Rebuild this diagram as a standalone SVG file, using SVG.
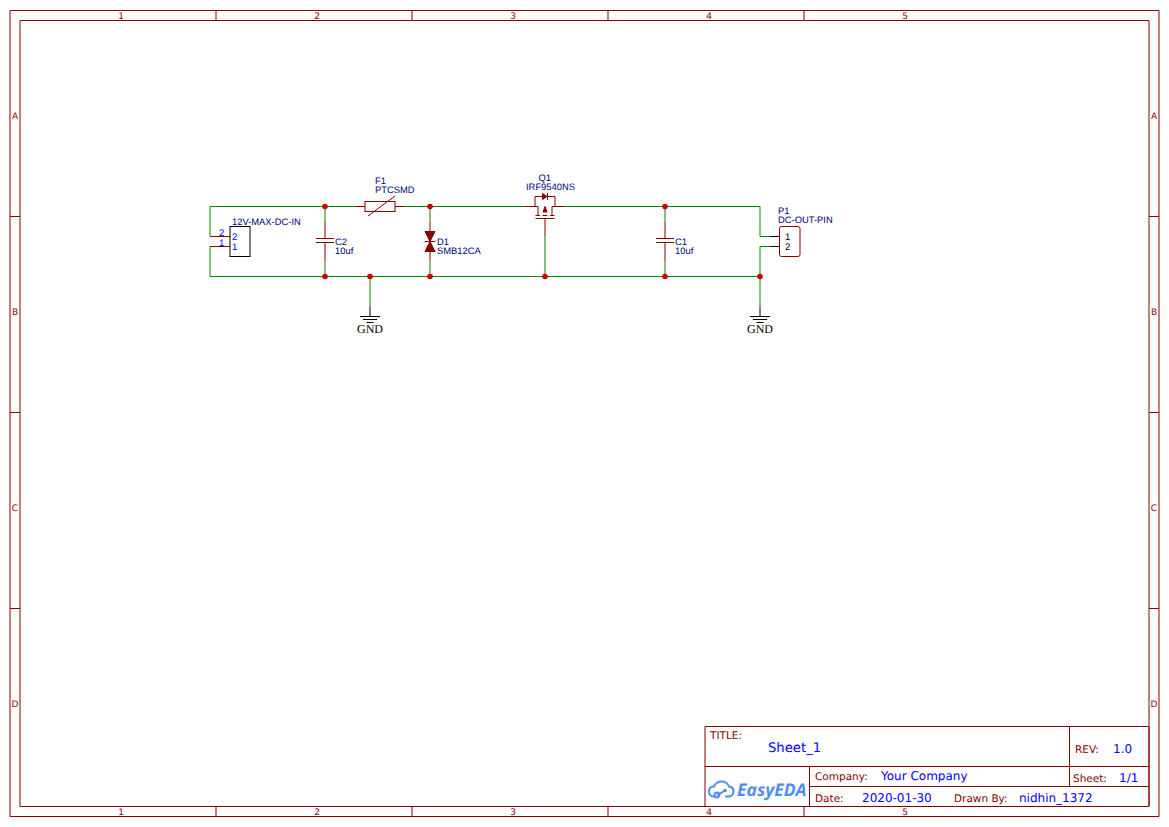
<svg xmlns="http://www.w3.org/2000/svg" width="1169" height="827" viewBox="0 0 1169 827">
<style>
text{white-space:pre;text-rendering:geometricPrecision}
.f{fill:none;stroke:#880000;stroke-width:1}
.w{fill:none;stroke:#008800;stroke-width:1}
.p{fill:none;stroke:#880000;stroke-width:1}
.k{fill:none;stroke:#000;stroke-width:1}
.j{fill:#cc0000}
.b{fill:#880000;stroke:#880000;stroke-width:1}
.t{font-family:"DejaVu Sans",sans-serif;fill:#880000}
.g{font-size:9px;text-anchor:middle}
.v{font-family:"DejaVu Sans",sans-serif;fill:#0000ff}
.l{font-family:"Liberation Sans",Arial,sans-serif;font-size:9.4px;fill:#000080}
.n{font-family:"Liberation Sans",Arial,sans-serif;font-size:9.5px;fill:#0000ff}
.d{font-family:"Liberation Sans",Arial,sans-serif;font-size:9.5px;fill:#000}
.gnd{font-family:"Liberation Serif",serif;font-size:12px;fill:#000;text-anchor:middle}
</style>
<rect width="1169" height="827" fill="#fff"/>
<g id="frame">
<path class="f" d="M10 10.5H1159V816.5H10ZM20 20.5H1149V806.5H20Z"/>
<path class="f" d="M216 10.5V20.5M412 10.5V20.5M608 10.5V20.5M804 10.5V20.5M216 806.5V816.5M412 806.5V816.5M608 806.5V816.5M804 806.5V816.5M10 216.5H20M10 412.5H20M10 608.5H20M1149 216.5H1159M1149 412.5H1159M1149 608.5H1159"/>
<g class="t g">
<text x="121" y="18.500">1</text><text x="317" y="18.500">2</text><text x="513" y="18.500">3</text><text x="709" y="18.500">4</text><text x="905" y="18.500">5</text>
<text x="121" y="815">1</text><text x="317" y="815">2</text><text x="513" y="815">3</text><text x="709" y="815">4</text><text x="905" y="815">5</text>
<text x="15" y="119">A</text><text x="15" y="315">B</text><text x="15" y="511">C</text><text x="15" y="707">D</text>
<text x="1154" y="119">A</text><text x="1154" y="315">B</text><text x="1154" y="511">C</text><text x="1154" y="707">D</text>
</g>
</g>
<g id="title-block">
<path class="f" d="M705 726.500H1149V806.500H705ZM705 766.500H1149M809.500 786.500H1149M809.500 766.500V806.500M1069.500 726.500V786.500"/>
<text class="t" x="710" y="739" font-size="10.500">TITLE:</text>
<text class="v" x="768" y="752" font-size="13.200">Sheet_1</text>
<text class="t" x="815" y="780" font-size="10.500">Company:</text>
<text class="v" x="881" y="780" font-size="12">Your Company</text>
<text class="t" x="815" y="802" font-size="10.500">Date:</text>
<text class="v" x="862" y="802" font-size="12">2020-01-30</text>
<text class="t" x="954" y="802" font-size="10.500">Drawn By:</text>
<text class="v" x="1019" y="802" font-size="12">nidhin_1372</text>
<text class="t" x="1075" y="753" font-size="10.500">REV:</text>
<text class="v" x="1113" y="753" font-size="12">1.0</text>
<text class="t" x="1073" y="782" font-size="10.500">Sheet:</text>
<text class="v" x="1119" y="782" font-size="12">1/1</text>
<g id="logo">
<path d="M716 796.500H713.500C710.500 796.500 709 794 709 791.500C709 788.500 711 786.500 714 786.500C715.500 783 718.500 781.500 721.500 781.500C725.500 781.500 728 784 729 786.500C732 786.800 733.500 789 733.500 791.500C733.500 794.500 731 796.500 728 796.500H725" fill="none" stroke="#4f8ef0" stroke-width="2"/>
<path d="M717 795.500L725 790.500" fill="none" stroke="#4f8ef0" stroke-width="2"/>
<circle cx="717" cy="795" r="2.500" fill="none" stroke="#4f8ef0" stroke-width="1.800"/>
<circle cx="725" cy="790.500" r="1.800" fill="#4f8ef0"/>
<text x="737" y="795.500" font-family="'Open Sans','DejaVu Sans',sans-serif" font-size="17.500" font-style="italic" font-weight="700" fill="#4f8ef0">EasyEDA</text>
</g>
</g>
<g id="connectors">
<path class="w" d="M325 206.500H355M405 206.500H525M565 206.500H760V236.500H770M760 246.500H770M760 246.500V306.500M210 236.500V206.500H325M210 246.500V276.500H760M325 206.500V221.500M325 261.500V276.500M430 206.500V221.500M430 261.500V276.500M665 206.500V221.500M665 261.500V276.500M545 236.500V276.500M370 276.500V306.500"/>
<g class="j">
<circle cx="325" cy="206.500" r="2.800"/><circle cx="430" cy="206.500" r="2.800"/><circle cx="665" cy="206.500" r="2.800"/>
<circle cx="325" cy="276.500" r="2.800"/><circle cx="370" cy="276.500" r="2.800"/><circle cx="430" cy="276.500" r="2.800"/><circle cx="545" cy="276.500" r="2.800"/><circle cx="665" cy="276.500" r="2.800"/><circle cx="760" cy="276.500" r="2.800"/>
</g>
</g>
<g id="J1">
<rect class="k" x="230" y="226.500" width="20" height="30"/>
<path class="p" d="M210 236.500H230M210 246.500H230"/>
<text class="l" x="232" y="224.500">12V-MAX-DC-IN</text>
<text class="n" x="219" y="236">2</text><text class="n" x="219" y="246">1</text>
<text class="n" x="232" y="240">2</text><text class="n" x="232" y="250">1</text>
</g>
<g id="C2">
<path class="p" d="M325 221.500V238.500M325 242.500V261.500M316 238.500H334M316 242.500H334"/>
<text class="l" x="335" y="245">C2</text><text class="l" x="335" y="254">10uf</text>
</g>
<g id="F1">
<rect class="p" x="365" y="201.500" width="30" height="10"/>
<path class="p" d="M355 206.500H365M395 206.500H405M368 216L395 196"/>
<text class="l" x="375" y="183.800">F1</text><text class="l" x="375" y="193">PTCSMD</text>
</g>
<g id="D1">
<path class="p" d="M430 221.500V261.500M424 242.500L425 241.500H435L436 240.500"/>
<path class="b" d="M425 231.500H435L430 241.500ZM425 251.500H435L430 241.500Z"/>
<text class="l" x="437" y="245">D1</text><text class="l" x="437" y="254">SMB12CA</text>
</g>
<g id="Q1">
<path class="p" d="M525 206.500H538V215.500M565 206.500H552V215.500M535 206.500V196.500H555V206.500M535.500 215.500H540M542.500 215.500H547.500M550 215.500H554.500M535.500 218.500H554.500M545 218.500V236.500M547.500 193V200"/>
<path class="b" d="M542.500 193.500L547 196.500L542.500 199.500ZM545 206.500L547 212H543Z"/>
<text class="l" x="538.500" y="180.800">Q1</text><text class="l" x="526" y="190">IRF9540NS</text>
</g>
<g id="C1">
<path class="p" d="M665 221.500V238.500M665 242.500V261.500M656 238.500H674M656 242.500H674"/>
<text class="l" x="675" y="245">C1</text><text class="l" x="675" y="254">10uf</text>
</g>
<g id="P1">
<rect class="p" x="779.500" y="226.500" width="20.500" height="30" rx="2"/>
<path class="k" d="M770 236.500H780M770 246.500H780"/>
<text class="l" x="778" y="214">P1</text><text class="l" x="778" y="223">DC-OUT-PIN</text>
<text class="d" x="785" y="239.500">1</text><text class="d" x="785" y="249.500">2</text>
</g>
<g id="GND1">
<path class="k" d="M370 306.500V316.500M360 316.500H380M363 319.500H377M366.500 322.500H373.500"/>
<text class="gnd" x="370" y="332.500">GND</text>
</g>
<g id="GND2">
<path class="k" d="M760 306.500V316.500M750 316.500H770M753 319.500H767M756.500 322.500H763.500"/>
<text class="gnd" x="760" y="332.500">GND</text>
</g>
</svg>
